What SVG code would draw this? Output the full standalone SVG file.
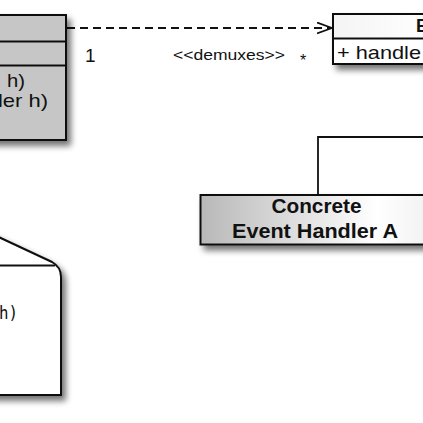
<svg xmlns="http://www.w3.org/2000/svg" width="423" height="423" viewBox="0 0 423 423">
<style>
.box{stroke:#111;stroke-width:2}
.ln{fill:none;stroke:#111;stroke-width:1.8}
.t{font-family:"Liberation Sans",Arial,sans-serif;fill:#111}
.b{font-weight:bold}
.m{font-family:"DejaVu Sans Mono","Liberation Mono",monospace;fill:#111}
</style>
<defs>
<filter id="sh" x="-20%" y="-20%" width="150%" height="150%">
<feGaussianBlur in="SourceAlpha" stdDeviation="3"/>
<feOffset dx="4" dy="5" result="o"/>
<feComponentTransfer><feFuncA type="linear" slope="0.55"/></feComponentTransfer>
<feMerge><feMergeNode/><feMergeNode in="SourceGraphic"/></feMerge>
</filter>
<linearGradient id="gc" x1="0" y1="0" x2="1" y2="0">
<stop offset="0" stop-color="#b8b8b8"/>
<stop offset="0.75" stop-color="#ffffff"/>
<stop offset="1" stop-color="#f0f0f0"/>
</linearGradient>
<linearGradient id="gt" x1="0" y1="0" x2="1" y2="0">
<stop offset="0" stop-color="#f4f4f4"/>
<stop offset="1" stop-color="#ffffff"/>
</linearGradient>
<marker id="arr" markerWidth="16" markerHeight="14" refX="15" refY="6" orient="auto" markerUnits="userSpaceOnUse">
<path d="M0,0.5 L15,6 L0,11.5" fill="none" stroke="#111" stroke-width="1.8"/>
</marker>
</defs>
<rect width="423" height="423" fill="#ffffff"/>

<g id="connectors">
<line x1="67" y1="28" x2="332" y2="28" class="ln" stroke-dasharray="8,5" marker-end="url(#arr)"/>
<path d="M318,195 L318,137 L430,137" class="ln"/>
<text x="85" y="62" class="t" font-size="19">1</text>
<text x="173" y="60" class="t" font-size="15" textLength="112" lengthAdjust="spacingAndGlyphs">&lt;&lt;demuxes&gt;&gt;</text>
<text x="303" y="66" class="t" font-size="16" text-anchor="middle">*</text>
</g>

<g id="reactor" filter="url(#sh)">
<rect x="-10" y="15" width="76" height="125" fill="#c6c6c6" class="box"/>
<line x1="-10" y1="41.5" x2="66" y2="41.5" class="box"/>
<line x1="-10" y1="65.5" x2="66" y2="65.5" class="box"/>
</g>
<g id="reactor-text">
<text x="25" y="87" class="t" font-size="18.5" text-anchor="end" textLength="18" lengthAdjust="spacingAndGlyphs">h)</text>
<text x="48" y="107" class="t" font-size="18.5" text-anchor="end" textLength="50" lengthAdjust="spacingAndGlyphs">ler h)</text>
</g>

<g id="event-handler">
<g filter="url(#sh)">
<rect x="333" y="14" width="100" height="50" fill="#ffffff" class="box"/>
<rect x="333" y="14" width="100" height="24.5" fill="url(#gt)" class="box"/>
</g>
<text x="416" y="32" class="t b" font-size="18">E</text>
<text x="337" y="59" class="t" font-size="18.5" textLength="84" lengthAdjust="spacingAndGlyphs">+ handle</text>
</g>

<g id="concrete-a">
<rect x="200.5" y="195" width="235" height="49.5" fill="url(#gc)" class="box" filter="url(#sh)"/>
<text x="316.5" y="213" class="t b" font-size="20" text-anchor="middle" textLength="90" lengthAdjust="spacingAndGlyphs">Concrete</text>
<text x="315" y="238" class="t b" font-size="20" text-anchor="middle" textLength="166" lengthAdjust="spacingAndGlyphs">Event Handler A</text>
</g>

<g id="handle-note">
<path d="M-10,233 L52,262 Q61,267 61,277 L61,395 L-10,395 Z" fill="#ffffff" class="box" filter="url(#sh)"/>
<line x1="-10" y1="265.5" x2="55" y2="265.5" class="box"/>
<text x="18" y="319" class="m" font-size="18" text-anchor="end" textLength="19" lengthAdjust="spacingAndGlyphs">h)</text>
</g>
</svg>
